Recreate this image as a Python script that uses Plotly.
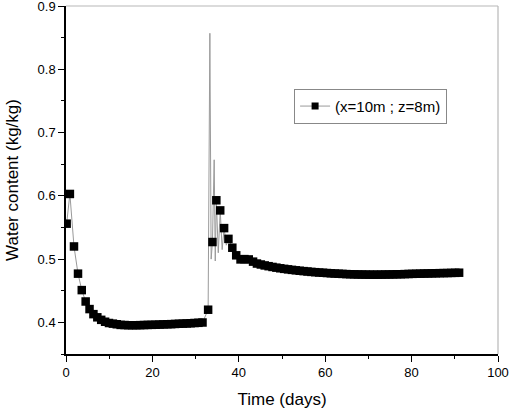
import plotly.graph_objects as go

# Marker points (days, water content)
marker_days = [0.15, 0.9, 1.85, 2.78, 3.65, 4.55, 5.45, 6.35, 7.25, 8.15, 9.05, 9.95,
               10.85, 11.75, 12.65, 13.55, 14.45, 15.35, 16.25, 17.15, 18.05, 18.95,
               19.85, 20.75, 21.65, 22.55, 23.45, 24.35, 25.25, 26.15, 27.05, 27.95,
               28.85, 29.75, 30.65, 31.6, 32.9,
               33.9, 34.8, 35.7, 36.6, 37.6, 38.5, 39.4, 40.4, 41.3, 42.3, 43.3, 44.2,
               45.1, 46.0, 46.9, 47.8, 48.7, 49.6, 50.5, 51.4, 52.3, 53.2, 54.1, 55.0,
               55.9, 56.8, 57.7, 58.6, 59.5, 60.4, 61.3, 62.2, 63.1, 64.0, 64.9, 65.8,
               66.7, 67.6, 68.5, 69.4, 70.3, 71.2, 72.1, 73.0, 73.9, 74.8, 75.7, 76.6,
               77.5, 78.4, 79.3, 80.2, 81.1, 82.0, 82.9, 83.8, 84.7, 85.6, 86.5, 87.4,
               88.3, 89.2, 90.1, 91.0]
marker_vals = [0.556, 0.603, 0.520, 0.477, 0.451, 0.433, 0.421, 0.413, 0.408, 0.404, 0.401, 0.399,
               0.398, 0.397, 0.396, 0.3958, 0.3955, 0.3955, 0.3955, 0.3956, 0.3958, 0.396,
               0.3961, 0.3963, 0.3965, 0.3968, 0.397, 0.3972, 0.3975, 0.3978, 0.398, 0.3983,
               0.3986, 0.399, 0.3993, 0.3998, 0.420,
               0.527, 0.593, 0.577, 0.549, 0.532, 0.518, 0.506, 0.4995, 0.5, 0.4995, 0.496, 0.493,
               0.4915, 0.490, 0.4888, 0.4876, 0.4865, 0.4855, 0.4846, 0.4838, 0.483, 0.4823, 0.4816, 0.481,
               0.4804, 0.4798, 0.4793, 0.4788, 0.4784, 0.478, 0.4776, 0.4772, 0.4769, 0.4766, 0.4763, 0.4761,
               0.4759, 0.4757, 0.4756, 0.4755, 0.4754, 0.4754, 0.4754, 0.4755, 0.4756, 0.4757, 0.4758, 0.476,
               0.4761, 0.4763, 0.4765, 0.4767, 0.4768, 0.477, 0.4772, 0.4773, 0.4775, 0.4776, 0.4778, 0.4779,
               0.478, 0.4782, 0.4783, 0.4785]

# Extra line-only points in the oscillation after day 33
spike_days = [33.3, 33.6, 34.3, 34.55, 35.25, 36.15, 37.1]
spike_vals = [0.857, 0.500, 0.657, 0.497, 0.510, 0.515, 0.522]

series_name = "(x=10m ; z=8m)"
y_ticks = [0.4, 0.5, 0.6, 0.7, 0.8, 0.9]
y_ticklabels = ["0.4", "0.5", "0.6", "0.7", "0.8", "0.9"]
x_ticks = [0, 20, 40, 60, 80, 100]

line_pts = sorted(zip(marker_days + spike_days, marker_vals + spike_vals))
line_days = [p[0] for p in line_pts]
line_vals = [p[1] for p in line_pts]

fig = go.Figure()
fig.add_trace(go.Scatter(x=line_days, y=line_vals, mode="lines",
                         line=dict(color="#9a9a9a", width=1), showlegend=False,
                         hoverinfo="skip"))
fig.add_trace(go.Scatter(x=marker_days, y=marker_vals, mode="markers",
                         marker=dict(symbol="square", size=8.5, color="black"),
                         showlegend=False))
fig.add_trace(go.Scatter(x=[None], y=[None], mode="lines+markers", name=series_name,
                         line=dict(color="#9a9a9a", width=1),
                         marker=dict(symbol="square", size=7, color="black")))

font = "Liberation Sans, Arial, sans-serif"
fig.update_layout(
    width=510, height=409,
    margin=dict(l=66, r=12, t=6, b=55, autoexpand=False),
    paper_bgcolor="white", plot_bgcolor="white",
    font=dict(family=font, size=13, color="black"),
    showlegend=True,
    legend=dict(x=0.528, y=0.762, xanchor="left", yanchor="top",
                bordercolor="#888888", borderwidth=1, bgcolor="white",
                font=dict(size=15, family=font), itemwidth=30,
                tracegroupgap=0),
    xaxis=dict(range=[0, 100.0001], tickvals=x_ticks, automargin=False,
               ticks="outside", ticklen=6, tickwidth=1, tickcolor="black",
               showline=True, linecolor="black", linewidth=1.5,
               showgrid=False, zeroline=False, ticklabeloverflow="allow",
               minor=dict(dtick=10, ticks="outside", ticklen=3, tickcolor="black"),
               title=dict(text="Time (days)", font=dict(size=17)),
               tickfont=dict(size=13)),
    yaxis=dict(range=[0.35, 0.9001], tickvals=y_ticks, ticktext=y_ticklabels,
               automargin=False,
               ticks="outside", ticklen=6, tickwidth=1, tickcolor="black",
               showline=True, linecolor="black", linewidth=1.5,
               showgrid=False, zeroline=False, ticklabeloverflow="allow",
               minor=dict(tickvals=[0.35, 0.45, 0.55, 0.65, 0.75, 0.85],
                          ticks="outside", ticklen=3, tickcolor="black"),
               title=dict(text="Water content (kg/kg)", font=dict(size=17)),
               tickfont=dict(size=13)),
)
# light gray top and right frame
fig.add_shape(type="line", xref="paper", yref="paper", x0=0, x1=1, y0=1, y1=1,
              line=dict(color="#b8b8b8", width=1.2))
fig.add_shape(type="line", xref="paper", yref="paper", x0=1, x1=1, y0=0, y1=1,
              line=dict(color="#b8b8b8", width=1.2))

fig.write_html("out.html", config={"displayModeBar": False},
               post_script="document.body.style.margin='0';document.body.style.overflow='hidden';")
